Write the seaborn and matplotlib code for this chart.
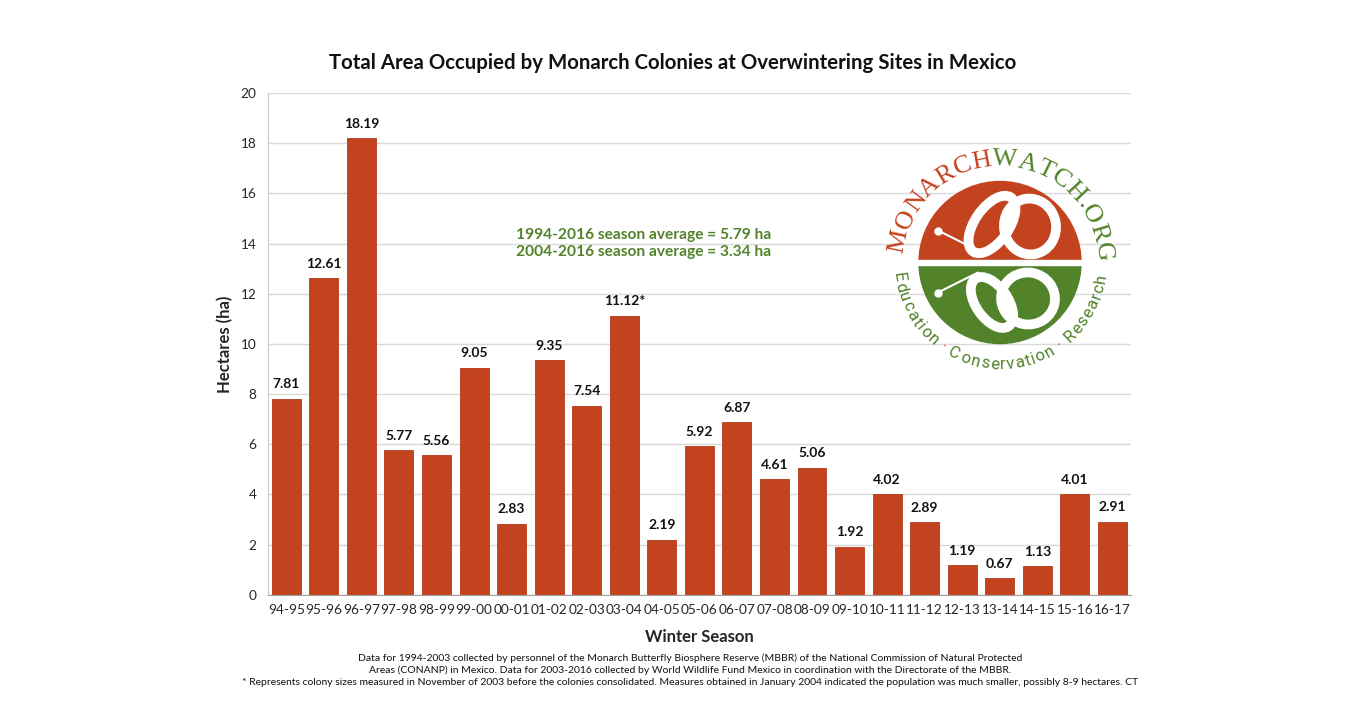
import numpy as np
import pandas as pd
import seaborn as sns
import matplotlib.pyplot as plt
from matplotlib.patches import Wedge, Rectangle, Ellipse
from matplotlib.ticker import MultipleLocator, FixedLocator
from matplotlib.font_manager import FontProperties, findfont, get_font

# data
seasons = ['94-95', '95-96', '96-97', '97-98', '98-99', '99-00', '00-01', '01-02',
           '02-03', '03-04', '04-05', '05-06', '06-07', '07-08', '08-09', '09-10',
           '10-11', '11-12', '12-13', '13-14', '14-15', '15-16', '16-17']
hectares = [7.81, 12.61, 18.19, 5.77, 5.56, 9.05, 2.83, 9.35, 7.54, 11.12, 2.19, 5.92,
            6.87, 4.61, 5.06, 1.92, 4.02, 2.89, 1.19, 0.67, 1.13, 4.01, 2.91]
value_labels = [f'{v:.2f}' for v in hectares]
value_labels[seasons.index('03-04')] += '*'

avg_lines = ['1994-2016 season average = 5.79 ha',
             '2004-2016 season average = 3.34 ha']
footer = ('Data for 1994-2003 collected by personnel of the Monarch Butterfly Biosphere Reserve (MBBR) of the National Commission of Natural Protected\n'
          'Areas (CONANP) in Mexico. Data for 2003-2016 collected by World Wildlife Fund Mexico in coordination with the Directorate of the MBBR.\n'
          '* Represents colony sizes measured in November of 2003 before the colonies consolidated. Measures obtained in January 2004 indicated the population was much smaller, possibly 8-9 hectares. CT')

bar_color = '#C4431F'
green = '#52822A'

sns.set_style('white')
plt.rcParams['font.family'] = ['Lato', 'DejaVu Sans']

fig = plt.figure(figsize=(13.58, 7.27), dpi=100)
ax = fig.add_axes([0.197, 0.182, 0.636, 0.690])

df = pd.DataFrame({'season': seasons, 'ha': hectares})
sns.barplot(data=df, x='season', y='ha', color=bar_color, saturation=1,
            width=0.77, edgecolor='#B53A1A', linewidth=0.6, ax=ax)

ax.bar_label(ax.containers[0], labels=value_labels, padding=6,
             fontsize=10, fontweight='bold', color='#111111')

# axes styling
ax.set_ylim(0, 20)
ax.yaxis.set_major_locator(MultipleLocator(2))
ax.yaxis.set_minor_locator(MultipleLocator(1))
ax.grid(axis='y', color='#D9D9D9', linewidth=1)
ax.set_axisbelow(True)
for s in ['top', 'right']:
    ax.spines[s].set_visible(False)
ax.spines['left'].set_color('#C8C8C8')
ax.spines['bottom'].set_color('#A0A0A0')
ax.tick_params(axis='y', which='both', length=0, labelsize=9.8, pad=8)
ax.tick_params(axis='y', which='minor', length=4, color='#C8C8C8', direction='out')
ax.tick_params(axis='x', which='major', length=0, labelsize=9.8, pad=7)
ax.xaxis.set_minor_locator(FixedLocator(np.arange(-0.5, len(seasons), 1)))
ax.tick_params(axis='x', which='minor', length=5, color='#A0A0A0', direction='out')

ax.set_xlabel('Winter Season', fontsize=12, fontweight='bold', labelpad=9)
ax.set_ylabel('Hectares (ha)', fontsize=12, fontweight='bold', labelpad=5)

fig.text(0.4955, 0.913, 'Total Area Occupied by Monarch Colonies at Overwintering Sites in Mexico',
         ha='center', va='center', fontsize=14.7, fontweight='bold', color='#111111')

ax.text(0.435, 0.700, avg_lines[0] + '\n' + avg_lines[1], transform=ax.transAxes,
        ha='center', va='center', fontsize=11.2, fontweight='bold', color=green,
        linespacing=1.3)

fig.text(0.508, 0.078, footer, ha='center', va='center', fontsize=7.45,
         color='#111111', linespacing=1.4)

# Monarch Watch logo (decoration), drawn in pixel units
lg = fig.add_axes([879 / 1358, 1 - 380 / 727, 242 / 1358, 235 / 727])
lg.set_xlim(-121, 121)
lg.set_ylim(-117.5, 117.5)
lg.set_aspect('equal')
lg.axis('off')
lg.add_patch(Wedge((0, 0), 81, 0, 180, color=bar_color))
lg.add_patch(Wedge((0, 0), 81, 180, 360, color=green))
lg.add_patch(Rectangle((-90, -2.5), 180, 5, color='white'))
# stylised butterfly wings
for cx, cy, w, h, ang in [(-8, 38, 34, 66, -35), (30, 36, 52, 56, 10),
                          (28, -36, 54, 52, -10), (-8, -40, 32, 58, 35)]:
    lg.add_patch(Ellipse((cx, cy), w, h, angle=ang, fill=False, ec='white', lw=7))
lg.plot([-22, -62], [12, 32], color='white', lw=1.5)
lg.plot([-22, -62], [-10, -30], color='white', lw=1.5)
lg.plot([-62, -62], [32, -30], 'o', color='white', ms=5)


def ring_text(text, r, a0, a1, top, colors, size, family, weight='normal'):
    font = get_font(findfont(FontProperties(family=family, weight=weight)))
    font.set_size(size, 72)
    widths = np.array([font.load_char(ord(ch)).linearHoriAdvance / 65536 for ch in text])
    centers = np.cumsum(widths) - widths / 2
    frac = (centers - centers[0]) / (centers[-1] - centers[0])
    angles = a0 + (a1 - a0) * frac
    for ch, a, c in zip(text, angles, colors):
        t = np.deg2rad(a)
        rot = a - 90 if top else a + 90
        lg.text(r * np.cos(t), r * np.sin(t), ch, rotation=rot, ha='center',
                va='center', rotation_mode='anchor', color=c, fontsize=size,
                family=family, fontweight=weight)


top_txt = 'MONARCHWATCH.ORG'
ring_text(top_txt, 103, 168, 6, True, [bar_color] * 7 + [green] * 9,
          19, 'Liberation Serif')
bot_txt = 'Education · Conservation · Research'
bot_cols = [bar_color if ch == '·' else green for ch in bot_txt]
ring_text(bot_txt, 102, 188, 351, False, bot_cols, 12, 'Roboto')

fig.savefig('out.png', dpi=100)
